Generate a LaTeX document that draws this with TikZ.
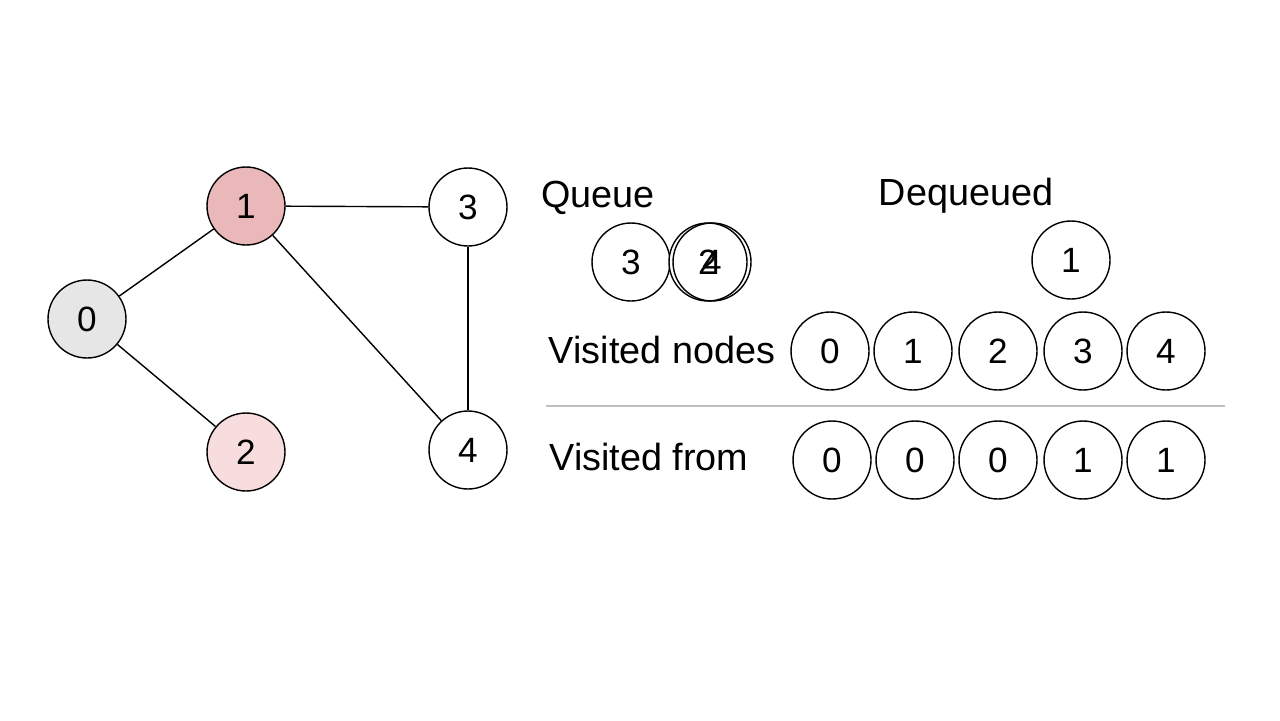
\documentclass[tikz,border=0pt]{standalone}
\usepackage{fontspec}
\setmainfont{Liberation Sans}
\definecolor{visitpink}{HTML}{EBB8BA}
\definecolor{lightpink}{HTML}{F8DDDF}
\definecolor{startgray}{HTML}{E6E6E6}
\begin{document}
\begin{tikzpicture}[x=0.02cm, y=-0.02cm, line width=0.8pt,
  vtx/.style={draw, circle, minimum size=1.56cm, inner sep=0pt, fill=white, font=\fontsize{20}{24}\selectfont},
  lbl/.style={font=\fontsize{21.5}{26}\selectfont, inner sep=0pt}]
\useasboundingbox (0,0) rectangle (1280,720);
% graph
\node[vtx, fill=startgray] (n0) at (87,319) {0};
\node[vtx, fill=visitpink] (n1) at (246,206) {1};
\node[vtx, fill=lightpink] (n2) at (246,452) {2};
\node[vtx] (n3) at (468,207) {3};
\node[vtx] (n4) at (468,450) {4};
\draw (n0) -- (n1);
\draw (n0) -- (n2);
\draw (n1) -- (n3);
\draw (n1) -- (n4);
\draw (n3) -- (n4);
% queue and dequeued
\node[lbl] (queue) at (598,198) {Queue};
\node[lbl] (deq) at (966,196) {Dequeued};
\node[vtx] (q3) at (631,262) {3};
\node[vtx] (q2) at (708,262) {2};
\node[vtx, fill=none] (q4) at (712,262) {4};
\node[vtx] (d1) at (1071,260) {1};
% tables
\node[lbl] (vn) at (662,350) {Visited nodes};
\node[lbl] (vf) at (649,457) {Visited from};
\foreach \x/\t [count=\i] in {830/0,913/1,998/2,1083/3,1166/4}
  \node[vtx] (v\i) at (\x,351) {\t};
\foreach \x/\t [count=\i] in {832/0,915/0,998/0,1083/1,1166/1}
  \node[vtx] (f\i) at (\x,460) {\t};
\draw[gray!50, line width=1.5pt] (546,406) -- (1225,406);
\end{tikzpicture}
\end{document}
